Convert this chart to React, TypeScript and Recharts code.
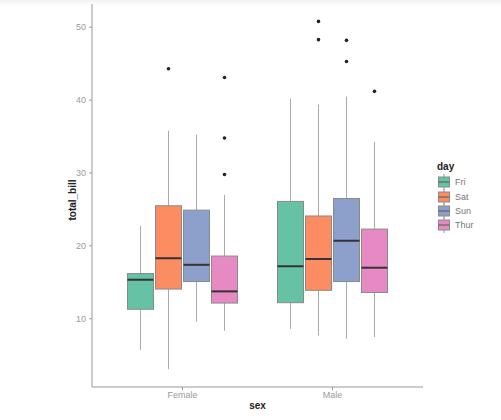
import React from "react";
import { ComposedChart, Bar, XAxis, YAxis } from "recharts";

const sexes = ["Female", "Male"];
const days = ["Fri", "Sat", "Sun", "Thur"];
const dayColors = ["#66C2A5", "#FC8D62", "#8DA0CB", "#E78AC3"];
const yTicks = [10, 20, 30, 40, 50];

// rows: Female, Male; columns: Fri, Sat, Sun, Thur
const lowerWhisker = [
  [5.75, 3.07, 9.6, 8.35],
  [8.6, 7.7, 7.25, 7.5],
];
const q1 = [
  [11.3, 14.07, 15.1, 12.15],
  [12.2, 13.9, 15.1, 13.6],
];
const median = [
  [15.35, 18.3, 17.4, 13.75],
  [17.2, 18.2, 20.7, 17.0],
];
const q3 = [
  [16.2, 25.5, 24.9, 18.6],
  [26.1, 24.1, 26.5, 22.3],
];
const upperWhisker = [
  [22.75, 35.8, 35.26, 27.0],
  [40.2, 39.4, 40.5, 34.3],
];
const outliers = [
  [[], [44.3], [], [43.1, 34.8, 29.8]],
  [[], [50.8, 48.3], [48.2, 45.3], [41.2]],
];

const FONT = "Liberation Sans, Arial, sans-serif";

const data = sexes.map((sex, si) => {
  const row: any = { sex };
  days.forEach((d, di) => {
    row[d] = [q1[si][di], q3[si][di]];
  });
  return row;
});

const BoxShape = (props: any) => {
  const { x, y, width, height, payload, di } = props;
  const si = sexes.indexOf(payload.sex);
  const lo = q1[si][di];
  const hi = q3[si][di];
  const top = Math.min(y, y + height);
  const bot = Math.max(y, y + height);
  const px = (v: number) => top + ((hi - v) * (bot - top)) / (hi - lo);
  const cx = x + width / 2;
  return (
    <g>
      <line x1={cx} x2={cx} y1={px(upperWhisker[si][di])} y2={top} stroke="#aaaaaa" strokeWidth={1} />
      <line x1={cx} x2={cx} y1={bot} y2={px(lowerWhisker[si][di])} stroke="#aaaaaa" strokeWidth={1} />
      <rect x={x} y={top} width={width} height={bot - top} fill={dayColors[di]} stroke="#8a8a8a" strokeWidth={1} />
      <line x1={x} x2={x + width} y1={px(median[si][di])} y2={px(median[si][di])} stroke="#333333" strokeWidth={2} />
      {outliers[si][di].map((v: number, i: number) => (
        <circle key={i} cx={cx} cy={px(v)} r={1.8} fill="#222222" />
      ))}
    </g>
  );
};

const LegendBox = ({ color }: { color: string }) => (
  <svg width={14} height={16} style={{ display: "block" }}>
    <line x1={7} x2={7} y1={0} y2={3} stroke="#999" />
    <line x1={7} x2={7} y1={13} y2={16} stroke="#999" />
    <rect x={1.5} y={3} width={11} height={10} fill={color} stroke="#8a8a8a" />
    <line x1={1.5} x2={12.5} y1={8} y2={8} stroke="#555" strokeWidth={1} />
  </svg>
);

const DayLegend = () => (
  <div style={{ position: "absolute", left: 437, top: 161, fontFamily: FONT }}>
    <div style={{ fontSize: 10, fontWeight: "bold", color: "#222", marginBottom: 3 }}>day</div>
    {days.map((d, i) => (
      <div key={d} style={{ display: "flex", alignItems: "center", height: 14.4 }}>
        <LegendBox color={dayColors[i]} />
        <span style={{ fontSize: 9, color: "#777", marginLeft: 4 }}>{d}</span>
      </div>
    ))}
  </div>
);

export default function App() {
  return (
    <div style={{ position: "absolute", left: 0, top: 0, width: 501, height: 420, background: "#fff" }}>
      <div
        style={{
          position: "absolute",
          left: 0,
          top: 0,
          width: 501,
          height: 6,
          background: "linear-gradient(#f2f2f2, #ffffff)",
        }}
      />
      <ComposedChart
        width={501}
        height={420}
        data={data}
        margin={{ top: 4, right: 78, bottom: 3, left: 0 }}
        barSize={26}
        barGap={2}
        barCategoryGap={20}
      >
        <XAxis
          dataKey="sex"
          padding={{ left: 15.5, right: 15.5 }}
          height={30}
          tickSize={3}
          axisLine={{ stroke: "#999" }}
          tickLine={{ stroke: "#999" }}
          tick={{ fontSize: 9, fill: "#9a9a9a", fontFamily: FONT }}
          label={{
            content: () => (
              <text x={257.5} y={409} textAnchor="middle" fontSize={10} fontWeight="bold" fill="#222" fontFamily={FONT}>
                sex
              </text>
            ),
          }}
        />
        <YAxis
          type="number"
          width={92}
          domain={[0.63, 53.19]}
          ticks={yTicks}
          tickSize={3}
          tickMargin={3}
          axisLine={{ stroke: "#999" }}
          tickLine={{ stroke: "#999" }}
          tick={{ fontSize: 9, fill: "#9a9a9a", fontFamily: FONT }}
          label={{
            content: () => (
              <text
                x={76}
                y={200}
                textAnchor="middle"
                fontSize={10}
                fontWeight="bold"
                fill="#222"
                fontFamily={FONT}
                transform="rotate(-90, 76, 200)"
              >
                total_bill
              </text>
            ),
          }}
        />
        {days.map((d, di) => (
          <Bar
            key={d}
            dataKey={d}
            isAnimationActive={false}
            fill={dayColors[di]}
            shape={(p: any) => <BoxShape {...p} di={di} />}
          />
        ))}
      </ComposedChart>
      <DayLegend />
    </div>
  );
}
